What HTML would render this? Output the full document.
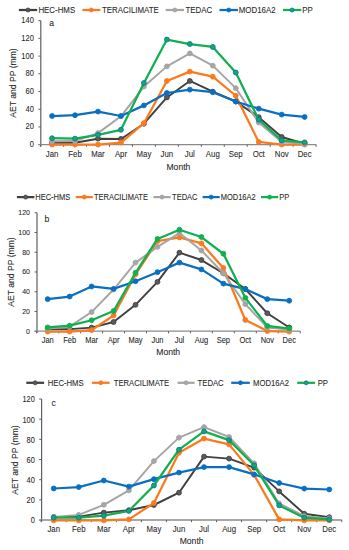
<!DOCTYPE html>
<html><head><meta charset="utf-8"><style>
html,body{margin:0;padding:0;background:#fff;width:349px;height:550px;overflow:hidden}
svg{display:block}
text{font-family:"Liberation Sans",sans-serif;fill:#2a2a2a;stroke:#2a2a2a;stroke-width:0.08px}
</style></head><body>
<svg width="349" height="550" viewBox="0 0 349 550">
<rect width="349" height="550" fill="#fff"/>
<line x1="40.80" y1="20.70" x2="40.80" y2="146.40" stroke="#606060" stroke-width="1.2"/>
<line x1="38.40" y1="144.60" x2="40.80" y2="144.60" stroke="#606060" stroke-width="1"/>
<text transform="translate(33.80 147.00) scale(1 1.11)" text-anchor="end" font-size="7.5">0</text>
<line x1="38.40" y1="126.90" x2="40.80" y2="126.90" stroke="#606060" stroke-width="1"/>
<text transform="translate(33.80 129.30) scale(1 1.11)" text-anchor="end" font-size="7.5">20</text>
<line x1="38.40" y1="109.20" x2="40.80" y2="109.20" stroke="#606060" stroke-width="1"/>
<text transform="translate(33.80 111.60) scale(1 1.11)" text-anchor="end" font-size="7.5">40</text>
<line x1="38.40" y1="91.50" x2="40.80" y2="91.50" stroke="#606060" stroke-width="1"/>
<text transform="translate(33.80 93.90) scale(1 1.11)" text-anchor="end" font-size="7.5">60</text>
<line x1="38.40" y1="73.80" x2="40.80" y2="73.80" stroke="#606060" stroke-width="1"/>
<text transform="translate(33.80 76.20) scale(1 1.11)" text-anchor="end" font-size="7.5">80</text>
<line x1="38.40" y1="56.10" x2="40.80" y2="56.10" stroke="#606060" stroke-width="1"/>
<text transform="translate(33.80 58.50) scale(1 1.11)" text-anchor="end" font-size="7.5">100</text>
<line x1="38.40" y1="38.40" x2="40.80" y2="38.40" stroke="#606060" stroke-width="1"/>
<text transform="translate(33.80 40.80) scale(1 1.11)" text-anchor="end" font-size="7.5">120</text>
<line x1="38.40" y1="20.70" x2="40.80" y2="20.70" stroke="#606060" stroke-width="1"/>
<text transform="translate(33.80 23.10) scale(1 1.11)" text-anchor="end" font-size="7.5">140</text>
<line x1="38.40" y1="144.6" x2="316.12" y2="144.6" stroke="#8a8a8a" stroke-width="1.3"/>
<line x1="40.60" y1="144.6" x2="40.60" y2="146.79999999999998" stroke="#606060" stroke-width="1"/>
<line x1="63.56" y1="144.6" x2="63.56" y2="146.79999999999998" stroke="#606060" stroke-width="1"/>
<line x1="86.52" y1="144.6" x2="86.52" y2="146.79999999999998" stroke="#606060" stroke-width="1"/>
<line x1="109.48" y1="144.6" x2="109.48" y2="146.79999999999998" stroke="#606060" stroke-width="1"/>
<line x1="132.44" y1="144.6" x2="132.44" y2="146.79999999999998" stroke="#606060" stroke-width="1"/>
<line x1="155.40" y1="144.6" x2="155.40" y2="146.79999999999998" stroke="#606060" stroke-width="1"/>
<line x1="178.36" y1="144.6" x2="178.36" y2="146.79999999999998" stroke="#606060" stroke-width="1"/>
<line x1="201.32" y1="144.6" x2="201.32" y2="146.79999999999998" stroke="#606060" stroke-width="1"/>
<line x1="224.28" y1="144.6" x2="224.28" y2="146.79999999999998" stroke="#606060" stroke-width="1"/>
<line x1="247.24" y1="144.6" x2="247.24" y2="146.79999999999998" stroke="#606060" stroke-width="1"/>
<line x1="270.20" y1="144.6" x2="270.20" y2="146.79999999999998" stroke="#606060" stroke-width="1"/>
<line x1="293.16" y1="144.6" x2="293.16" y2="146.79999999999998" stroke="#606060" stroke-width="1"/>
<line x1="316.12" y1="144.6" x2="316.12" y2="146.79999999999998" stroke="#606060" stroke-width="1"/>
<text transform="translate(52.08 157.20) scale(1 1.16)" text-anchor="middle" font-size="7.8">Jan</text>
<text transform="translate(75.04 157.20) scale(1 1.16)" text-anchor="middle" font-size="7.8">Feb</text>
<text transform="translate(98.00 157.20) scale(1 1.16)" text-anchor="middle" font-size="7.8">Mar</text>
<text transform="translate(120.96 157.20) scale(1 1.16)" text-anchor="middle" font-size="7.8">Apr</text>
<text transform="translate(143.92 157.20) scale(1 1.16)" text-anchor="middle" font-size="7.8">May</text>
<text transform="translate(166.88 157.20) scale(1 1.16)" text-anchor="middle" font-size="7.8">Jun</text>
<text transform="translate(189.84 157.20) scale(1 1.16)" text-anchor="middle" font-size="7.8">Jul</text>
<text transform="translate(212.80 157.20) scale(1 1.16)" text-anchor="middle" font-size="7.8">Aug</text>
<text transform="translate(235.76 157.20) scale(1 1.16)" text-anchor="middle" font-size="7.8">Sep</text>
<text transform="translate(258.72 157.20) scale(1 1.16)" text-anchor="middle" font-size="7.8">Oct</text>
<text transform="translate(281.68 157.20) scale(1 1.16)" text-anchor="middle" font-size="7.8">Nov</text>
<text transform="translate(304.64 157.20) scale(1 1.16)" text-anchor="middle" font-size="7.8">Dec</text>
<text transform="translate(178.40 169.60) scale(1 1.14)" text-anchor="middle" font-size="8.6">Month</text>
<text transform="translate(16.30 83.00) rotate(-90) scale(1 1.11)" text-anchor="middle" font-size="8.6">AET and PP (mm)</text>
<text transform="translate(49.20 26.10) scale(1 1.11)" font-size="8.6">a</text>
<polyline points="52.08,142.83 75.04,142.83 98.00,138.67 120.96,138.94 143.92,123.71 166.88,97.43 189.84,80.97 212.80,91.68 235.76,101.50 258.72,117.16 281.68,136.99 304.64,143.72" fill="none" stroke="#404040" stroke-width="1.95" stroke-linejoin="round"/>
<circle cx="52.08" cy="142.83" r="2.45" fill="#5A5A5A" stroke="#404040" stroke-width="0.9"/>
<circle cx="75.04" cy="142.83" r="2.45" fill="#5A5A5A" stroke="#404040" stroke-width="0.9"/>
<circle cx="98.00" cy="138.67" r="2.45" fill="#5A5A5A" stroke="#404040" stroke-width="0.9"/>
<circle cx="120.96" cy="138.94" r="2.45" fill="#5A5A5A" stroke="#404040" stroke-width="0.9"/>
<circle cx="143.92" cy="123.71" r="2.45" fill="#5A5A5A" stroke="#404040" stroke-width="0.9"/>
<circle cx="166.88" cy="97.43" r="2.45" fill="#5A5A5A" stroke="#404040" stroke-width="0.9"/>
<circle cx="189.84" cy="80.97" r="2.45" fill="#5A5A5A" stroke="#404040" stroke-width="0.9"/>
<circle cx="212.80" cy="91.68" r="2.45" fill="#5A5A5A" stroke="#404040" stroke-width="0.9"/>
<circle cx="235.76" cy="101.50" r="2.45" fill="#5A5A5A" stroke="#404040" stroke-width="0.9"/>
<circle cx="258.72" cy="117.16" r="2.45" fill="#5A5A5A" stroke="#404040" stroke-width="0.9"/>
<circle cx="281.68" cy="136.99" r="2.45" fill="#5A5A5A" stroke="#404040" stroke-width="0.9"/>
<circle cx="304.64" cy="143.72" r="2.45" fill="#5A5A5A" stroke="#404040" stroke-width="0.9"/>
<polyline points="52.08,144.60 75.04,144.60 98.00,144.60 120.96,142.56 143.92,123.18 166.88,80.97 189.84,71.59 212.80,76.72 235.76,95.75 258.72,141.94 281.68,144.60 304.64,144.60" fill="none" stroke="#FA7A1E" stroke-width="2.25" stroke-linejoin="round"/>
<circle cx="52.08" cy="144.60" r="2.45" fill="#FA7A1E" stroke="#FA7A1E" stroke-width="0.9"/>
<circle cx="75.04" cy="144.60" r="2.45" fill="#FA7A1E" stroke="#FA7A1E" stroke-width="0.9"/>
<circle cx="98.00" cy="144.60" r="2.45" fill="#FA7A1E" stroke="#FA7A1E" stroke-width="0.9"/>
<circle cx="120.96" cy="142.56" r="2.45" fill="#FA7A1E" stroke="#FA7A1E" stroke-width="0.9"/>
<circle cx="143.92" cy="123.18" r="2.45" fill="#FA7A1E" stroke="#FA7A1E" stroke-width="0.9"/>
<circle cx="166.88" cy="80.97" r="2.45" fill="#FA7A1E" stroke="#FA7A1E" stroke-width="0.9"/>
<circle cx="189.84" cy="71.59" r="2.45" fill="#FA7A1E" stroke="#FA7A1E" stroke-width="0.9"/>
<circle cx="212.80" cy="76.72" r="2.45" fill="#FA7A1E" stroke="#FA7A1E" stroke-width="0.9"/>
<circle cx="235.76" cy="95.75" r="2.45" fill="#FA7A1E" stroke="#FA7A1E" stroke-width="0.9"/>
<circle cx="258.72" cy="141.94" r="2.45" fill="#FA7A1E" stroke="#FA7A1E" stroke-width="0.9"/>
<circle cx="281.68" cy="144.60" r="2.45" fill="#FA7A1E" stroke="#FA7A1E" stroke-width="0.9"/>
<circle cx="304.64" cy="144.60" r="2.45" fill="#FA7A1E" stroke="#FA7A1E" stroke-width="0.9"/>
<polyline points="52.08,141.33 75.04,141.06 98.00,133.09 120.96,116.28 143.92,86.54 166.88,66.37 189.84,53.44 212.80,65.66 235.76,88.14 258.72,122.47 281.68,141.94 304.64,143.72" fill="none" stroke="#A5A5A5" stroke-width="1.95" stroke-linejoin="round"/>
<circle cx="52.08" cy="141.33" r="2.45" fill="#A5A5A5" stroke="#A5A5A5" stroke-width="0.9"/>
<circle cx="75.04" cy="141.06" r="2.45" fill="#A5A5A5" stroke="#A5A5A5" stroke-width="0.9"/>
<circle cx="98.00" cy="133.09" r="2.45" fill="#A5A5A5" stroke="#A5A5A5" stroke-width="0.9"/>
<circle cx="120.96" cy="116.28" r="2.45" fill="#A5A5A5" stroke="#A5A5A5" stroke-width="0.9"/>
<circle cx="143.92" cy="86.54" r="2.45" fill="#A5A5A5" stroke="#A5A5A5" stroke-width="0.9"/>
<circle cx="166.88" cy="66.37" r="2.45" fill="#A5A5A5" stroke="#A5A5A5" stroke-width="0.9"/>
<circle cx="189.84" cy="53.44" r="2.45" fill="#A5A5A5" stroke="#A5A5A5" stroke-width="0.9"/>
<circle cx="212.80" cy="65.66" r="2.45" fill="#A5A5A5" stroke="#A5A5A5" stroke-width="0.9"/>
<circle cx="235.76" cy="88.14" r="2.45" fill="#A5A5A5" stroke="#A5A5A5" stroke-width="0.9"/>
<circle cx="258.72" cy="122.47" r="2.45" fill="#A5A5A5" stroke="#A5A5A5" stroke-width="0.9"/>
<circle cx="281.68" cy="141.94" r="2.45" fill="#A5A5A5" stroke="#A5A5A5" stroke-width="0.9"/>
<circle cx="304.64" cy="143.72" r="2.45" fill="#A5A5A5" stroke="#A5A5A5" stroke-width="0.9"/>
<polyline points="52.08,116.01 75.04,115.22 98.00,111.59 120.96,116.01 143.92,105.39 166.88,93.00 189.84,89.64 212.80,92.21 235.76,101.50 258.72,108.67 281.68,114.60 304.64,116.99" fill="none" stroke="#0A6FC2" stroke-width="2.25" stroke-linejoin="round"/>
<circle cx="52.08" cy="116.01" r="2.45" fill="#0A6FC2" stroke="#0A6FC2" stroke-width="0.9"/>
<circle cx="75.04" cy="115.22" r="2.45" fill="#0A6FC2" stroke="#0A6FC2" stroke-width="0.9"/>
<circle cx="98.00" cy="111.59" r="2.45" fill="#0A6FC2" stroke="#0A6FC2" stroke-width="0.9"/>
<circle cx="120.96" cy="116.01" r="2.45" fill="#0A6FC2" stroke="#0A6FC2" stroke-width="0.9"/>
<circle cx="143.92" cy="105.39" r="2.45" fill="#0A6FC2" stroke="#0A6FC2" stroke-width="0.9"/>
<circle cx="166.88" cy="93.00" r="2.45" fill="#0A6FC2" stroke="#0A6FC2" stroke-width="0.9"/>
<circle cx="189.84" cy="89.64" r="2.45" fill="#0A6FC2" stroke="#0A6FC2" stroke-width="0.9"/>
<circle cx="212.80" cy="92.21" r="2.45" fill="#0A6FC2" stroke="#0A6FC2" stroke-width="0.9"/>
<circle cx="235.76" cy="101.50" r="2.45" fill="#0A6FC2" stroke="#0A6FC2" stroke-width="0.9"/>
<circle cx="258.72" cy="108.67" r="2.45" fill="#0A6FC2" stroke="#0A6FC2" stroke-width="0.9"/>
<circle cx="281.68" cy="114.60" r="2.45" fill="#0A6FC2" stroke="#0A6FC2" stroke-width="0.9"/>
<circle cx="304.64" cy="116.99" r="2.45" fill="#0A6FC2" stroke="#0A6FC2" stroke-width="0.9"/>
<polyline points="52.08,138.23 75.04,138.67 98.00,134.87 120.96,129.82 143.92,83.00 166.88,39.55 189.84,44.06 212.80,46.98 235.76,72.56 258.72,119.73 281.68,140.44 304.64,142.39" fill="none" stroke="#10AF4F" stroke-width="2.25" stroke-linejoin="round"/>
<circle cx="52.08" cy="138.23" r="2.45" fill="#10AF4F" stroke="#0A6FC2" stroke-width="0.9"/>
<circle cx="75.04" cy="138.67" r="2.45" fill="#10AF4F" stroke="#0A6FC2" stroke-width="0.9"/>
<circle cx="98.00" cy="134.87" r="2.45" fill="#10AF4F" stroke="#0A6FC2" stroke-width="0.9"/>
<circle cx="120.96" cy="129.82" r="2.45" fill="#10AF4F" stroke="#0A6FC2" stroke-width="0.9"/>
<circle cx="143.92" cy="83.00" r="2.45" fill="#10AF4F" stroke="#0A6FC2" stroke-width="0.9"/>
<circle cx="166.88" cy="39.55" r="2.45" fill="#10AF4F" stroke="#0A6FC2" stroke-width="0.9"/>
<circle cx="189.84" cy="44.06" r="2.45" fill="#10AF4F" stroke="#0A6FC2" stroke-width="0.9"/>
<circle cx="212.80" cy="46.98" r="2.45" fill="#10AF4F" stroke="#0A6FC2" stroke-width="0.9"/>
<circle cx="235.76" cy="72.56" r="2.45" fill="#10AF4F" stroke="#0A6FC2" stroke-width="0.9"/>
<circle cx="258.72" cy="119.73" r="2.45" fill="#10AF4F" stroke="#0A6FC2" stroke-width="0.9"/>
<circle cx="281.68" cy="140.44" r="2.45" fill="#10AF4F" stroke="#0A6FC2" stroke-width="0.9"/>
<circle cx="304.64" cy="142.39" r="2.45" fill="#10AF4F" stroke="#0A6FC2" stroke-width="0.9"/>
<line x1="18.9" y1="10.0" x2="37.2" y2="10.0" stroke="#404040" stroke-width="2.25"/>
<circle cx="28.05" cy="10.0" r="2.0" fill="#5A5A5A" stroke="#404040" stroke-width="0.8"/>
<text transform="translate(38.40 13.05) scale(1 1.11)" font-size="7.9">HEC-HMS</text>
<line x1="82.4" y1="10.0" x2="100.3" y2="10.0" stroke="#FA7A1E" stroke-width="2.25"/>
<circle cx="91.35" cy="10.0" r="2.0" fill="#FA7A1E" stroke="#FA7A1E" stroke-width="0.8"/>
<text transform="translate(102.00 13.05) scale(1 1.11)" font-size="7.9">TERACILIMATE</text>
<line x1="165.7" y1="10.0" x2="184.0" y2="10.0" stroke="#A5A5A5" stroke-width="2.25"/>
<circle cx="174.85" cy="10.0" r="2.0" fill="#A5A5A5" stroke="#A5A5A5" stroke-width="0.8"/>
<text transform="translate(185.40 13.05) scale(1 1.11)" font-size="7.9">TEDAC</text>
<line x1="219.5" y1="10.0" x2="238.0" y2="10.0" stroke="#0A6FC2" stroke-width="2.25"/>
<circle cx="228.75" cy="10.0" r="2.0" fill="#0A6FC2" stroke="#0A6FC2" stroke-width="0.8"/>
<text transform="translate(238.80 13.05) scale(1 1.11)" font-size="7.9">MOD16A2</text>
<line x1="283" y1="10.0" x2="301.3" y2="10.0" stroke="#10AF4F" stroke-width="2.25"/>
<circle cx="292.15" cy="10.0" r="2.0" fill="#10AF4F" stroke="#0A6FC2" stroke-width="0.8"/>
<text transform="translate(302.20 13.05) scale(1 1.11)" font-size="7.9">PP</text>
<line x1="37.00" y1="212.76" x2="37.00" y2="333.00" stroke="#606060" stroke-width="1.2"/>
<line x1="34.60" y1="331.20" x2="37.00" y2="331.20" stroke="#606060" stroke-width="1"/>
<text transform="translate(30.00 333.60) scale(1 1.11)" text-anchor="end" font-size="7.0">0</text>
<line x1="34.60" y1="311.46" x2="37.00" y2="311.46" stroke="#606060" stroke-width="1"/>
<text transform="translate(30.00 313.86) scale(1 1.11)" text-anchor="end" font-size="7.0">20</text>
<line x1="34.60" y1="291.72" x2="37.00" y2="291.72" stroke="#606060" stroke-width="1"/>
<text transform="translate(30.00 294.12) scale(1 1.11)" text-anchor="end" font-size="7.0">40</text>
<line x1="34.60" y1="271.98" x2="37.00" y2="271.98" stroke="#606060" stroke-width="1"/>
<text transform="translate(30.00 274.38) scale(1 1.11)" text-anchor="end" font-size="7.0">60</text>
<line x1="34.60" y1="252.24" x2="37.00" y2="252.24" stroke="#606060" stroke-width="1"/>
<text transform="translate(30.00 254.64) scale(1 1.11)" text-anchor="end" font-size="7.0">80</text>
<line x1="34.60" y1="232.50" x2="37.00" y2="232.50" stroke="#606060" stroke-width="1"/>
<text transform="translate(30.00 234.90) scale(1 1.11)" text-anchor="end" font-size="7.0">100</text>
<line x1="34.60" y1="212.76" x2="37.00" y2="212.76" stroke="#606060" stroke-width="1"/>
<text transform="translate(30.00 215.16) scale(1 1.11)" text-anchor="end" font-size="7.0">120</text>
<line x1="34.60" y1="331.2" x2="300.22" y2="331.2" stroke="#8a8a8a" stroke-width="1.3"/>
<line x1="36.70" y1="331.2" x2="36.70" y2="333.4" stroke="#606060" stroke-width="1"/>
<line x1="58.66" y1="331.2" x2="58.66" y2="333.4" stroke="#606060" stroke-width="1"/>
<line x1="80.62" y1="331.2" x2="80.62" y2="333.4" stroke="#606060" stroke-width="1"/>
<line x1="102.58" y1="331.2" x2="102.58" y2="333.4" stroke="#606060" stroke-width="1"/>
<line x1="124.54" y1="331.2" x2="124.54" y2="333.4" stroke="#606060" stroke-width="1"/>
<line x1="146.50" y1="331.2" x2="146.50" y2="333.4" stroke="#606060" stroke-width="1"/>
<line x1="168.46" y1="331.2" x2="168.46" y2="333.4" stroke="#606060" stroke-width="1"/>
<line x1="190.42" y1="331.2" x2="190.42" y2="333.4" stroke="#606060" stroke-width="1"/>
<line x1="212.38" y1="331.2" x2="212.38" y2="333.4" stroke="#606060" stroke-width="1"/>
<line x1="234.34" y1="331.2" x2="234.34" y2="333.4" stroke="#606060" stroke-width="1"/>
<line x1="256.30" y1="331.2" x2="256.30" y2="333.4" stroke="#606060" stroke-width="1"/>
<line x1="278.26" y1="331.2" x2="278.26" y2="333.4" stroke="#606060" stroke-width="1"/>
<line x1="300.22" y1="331.2" x2="300.22" y2="333.4" stroke="#606060" stroke-width="1"/>
<text transform="translate(47.68 343.40) scale(1 1.16)" text-anchor="middle" font-size="7.5">Jan</text>
<text transform="translate(69.64 343.40) scale(1 1.16)" text-anchor="middle" font-size="7.5">Feb</text>
<text transform="translate(91.60 343.40) scale(1 1.16)" text-anchor="middle" font-size="7.5">Mar</text>
<text transform="translate(113.56 343.40) scale(1 1.16)" text-anchor="middle" font-size="7.5">Apr</text>
<text transform="translate(135.52 343.40) scale(1 1.16)" text-anchor="middle" font-size="7.5">May</text>
<text transform="translate(157.48 343.40) scale(1 1.16)" text-anchor="middle" font-size="7.5">Jun</text>
<text transform="translate(179.44 343.40) scale(1 1.16)" text-anchor="middle" font-size="7.5">Jul</text>
<text transform="translate(201.40 343.40) scale(1 1.16)" text-anchor="middle" font-size="7.5">Aug</text>
<text transform="translate(223.36 343.40) scale(1 1.16)" text-anchor="middle" font-size="7.5">Sep</text>
<text transform="translate(245.32 343.40) scale(1 1.16)" text-anchor="middle" font-size="7.5">Oct</text>
<text transform="translate(267.28 343.40) scale(1 1.16)" text-anchor="middle" font-size="7.5">Nov</text>
<text transform="translate(289.24 343.40) scale(1 1.16)" text-anchor="middle" font-size="7.5">Dec</text>
<text transform="translate(168.20 354.90) scale(1 1.14)" text-anchor="middle" font-size="8.6">Month</text>
<text transform="translate(14.10 272.00) rotate(-90) scale(1 1.11)" text-anchor="middle" font-size="8.6">AET and PP (mm)</text>
<text transform="translate(44.60 221.60) scale(1 1.11)" font-size="8.6">b</text>
<polyline points="47.68,329.13 69.64,329.13 91.60,327.65 113.56,322.03 135.52,304.85 157.48,281.86 179.44,252.64 201.40,260.04 223.36,273.27 245.32,289.06 267.28,313.24 289.24,327.45" fill="none" stroke="#404040" stroke-width="1.95" stroke-linejoin="round"/>
<circle cx="47.68" cy="329.13" r="2.45" fill="#5A5A5A" stroke="#404040" stroke-width="0.9"/>
<circle cx="69.64" cy="329.13" r="2.45" fill="#5A5A5A" stroke="#404040" stroke-width="0.9"/>
<circle cx="91.60" cy="327.65" r="2.45" fill="#5A5A5A" stroke="#404040" stroke-width="0.9"/>
<circle cx="113.56" cy="322.03" r="2.45" fill="#5A5A5A" stroke="#404040" stroke-width="0.9"/>
<circle cx="135.52" cy="304.85" r="2.45" fill="#5A5A5A" stroke="#404040" stroke-width="0.9"/>
<circle cx="157.48" cy="281.86" r="2.45" fill="#5A5A5A" stroke="#404040" stroke-width="0.9"/>
<circle cx="179.44" cy="252.64" r="2.45" fill="#5A5A5A" stroke="#404040" stroke-width="0.9"/>
<circle cx="201.40" cy="260.04" r="2.45" fill="#5A5A5A" stroke="#404040" stroke-width="0.9"/>
<circle cx="223.36" cy="273.27" r="2.45" fill="#5A5A5A" stroke="#404040" stroke-width="0.9"/>
<circle cx="245.32" cy="289.06" r="2.45" fill="#5A5A5A" stroke="#404040" stroke-width="0.9"/>
<circle cx="267.28" cy="313.24" r="2.45" fill="#5A5A5A" stroke="#404040" stroke-width="0.9"/>
<circle cx="289.24" cy="327.45" r="2.45" fill="#5A5A5A" stroke="#404040" stroke-width="0.9"/>
<polyline points="47.68,331.60 69.64,331.60 91.60,330.12 113.56,315.51 135.52,274.35 157.48,241.19 179.44,237.44 201.40,243.36 223.36,267.94 245.32,319.95 267.28,331.01 289.24,331.60" fill="none" stroke="#FA7A1E" stroke-width="2.25" stroke-linejoin="round"/>
<circle cx="47.68" cy="331.60" r="2.45" fill="#FA7A1E" stroke="#FA7A1E" stroke-width="0.9"/>
<circle cx="69.64" cy="331.60" r="2.45" fill="#FA7A1E" stroke="#FA7A1E" stroke-width="0.9"/>
<circle cx="91.60" cy="330.12" r="2.45" fill="#FA7A1E" stroke="#FA7A1E" stroke-width="0.9"/>
<circle cx="113.56" cy="315.51" r="2.45" fill="#FA7A1E" stroke="#FA7A1E" stroke-width="0.9"/>
<circle cx="135.52" cy="274.35" r="2.45" fill="#FA7A1E" stroke="#FA7A1E" stroke-width="0.9"/>
<circle cx="157.48" cy="241.19" r="2.45" fill="#FA7A1E" stroke="#FA7A1E" stroke-width="0.9"/>
<circle cx="179.44" cy="237.44" r="2.45" fill="#FA7A1E" stroke="#FA7A1E" stroke-width="0.9"/>
<circle cx="201.40" cy="243.36" r="2.45" fill="#FA7A1E" stroke="#FA7A1E" stroke-width="0.9"/>
<circle cx="223.36" cy="267.94" r="2.45" fill="#FA7A1E" stroke="#FA7A1E" stroke-width="0.9"/>
<circle cx="245.32" cy="319.95" r="2.45" fill="#FA7A1E" stroke="#FA7A1E" stroke-width="0.9"/>
<circle cx="267.28" cy="331.01" r="2.45" fill="#FA7A1E" stroke="#FA7A1E" stroke-width="0.9"/>
<circle cx="289.24" cy="331.60" r="2.45" fill="#FA7A1E" stroke="#FA7A1E" stroke-width="0.9"/>
<polyline points="47.68,328.64 69.64,326.67 91.60,312.06 113.56,289.55 135.52,262.61 157.48,246.92 179.44,233.10 201.40,250.47 223.36,273.27 245.32,304.16 267.28,327.45 289.24,329.63" fill="none" stroke="#A5A5A5" stroke-width="1.95" stroke-linejoin="round"/>
<circle cx="47.68" cy="328.64" r="2.45" fill="#A5A5A5" stroke="#A5A5A5" stroke-width="0.9"/>
<circle cx="69.64" cy="326.67" r="2.45" fill="#A5A5A5" stroke="#A5A5A5" stroke-width="0.9"/>
<circle cx="91.60" cy="312.06" r="2.45" fill="#A5A5A5" stroke="#A5A5A5" stroke-width="0.9"/>
<circle cx="113.56" cy="289.55" r="2.45" fill="#A5A5A5" stroke="#A5A5A5" stroke-width="0.9"/>
<circle cx="135.52" cy="262.61" r="2.45" fill="#A5A5A5" stroke="#A5A5A5" stroke-width="0.9"/>
<circle cx="157.48" cy="246.92" r="2.45" fill="#A5A5A5" stroke="#A5A5A5" stroke-width="0.9"/>
<circle cx="179.44" cy="233.10" r="2.45" fill="#A5A5A5" stroke="#A5A5A5" stroke-width="0.9"/>
<circle cx="201.40" cy="250.47" r="2.45" fill="#A5A5A5" stroke="#A5A5A5" stroke-width="0.9"/>
<circle cx="223.36" cy="273.27" r="2.45" fill="#A5A5A5" stroke="#A5A5A5" stroke-width="0.9"/>
<circle cx="245.32" cy="304.16" r="2.45" fill="#A5A5A5" stroke="#A5A5A5" stroke-width="0.9"/>
<circle cx="267.28" cy="327.45" r="2.45" fill="#A5A5A5" stroke="#A5A5A5" stroke-width="0.9"/>
<circle cx="289.24" cy="329.63" r="2.45" fill="#A5A5A5" stroke="#A5A5A5" stroke-width="0.9"/>
<polyline points="47.68,299.13 69.64,296.56 91.60,286.49 113.56,288.86 135.52,281.26 157.48,272.18 179.44,262.61 201.40,269.42 223.36,283.63 245.32,289.06 267.28,299.13 289.24,300.71" fill="none" stroke="#0A6FC2" stroke-width="2.25" stroke-linejoin="round"/>
<circle cx="47.68" cy="299.13" r="2.45" fill="#0A6FC2" stroke="#0A6FC2" stroke-width="0.9"/>
<circle cx="69.64" cy="296.56" r="2.45" fill="#0A6FC2" stroke="#0A6FC2" stroke-width="0.9"/>
<circle cx="91.60" cy="286.49" r="2.45" fill="#0A6FC2" stroke="#0A6FC2" stroke-width="0.9"/>
<circle cx="113.56" cy="288.86" r="2.45" fill="#0A6FC2" stroke="#0A6FC2" stroke-width="0.9"/>
<circle cx="135.52" cy="281.26" r="2.45" fill="#0A6FC2" stroke="#0A6FC2" stroke-width="0.9"/>
<circle cx="157.48" cy="272.18" r="2.45" fill="#0A6FC2" stroke="#0A6FC2" stroke-width="0.9"/>
<circle cx="179.44" cy="262.61" r="2.45" fill="#0A6FC2" stroke="#0A6FC2" stroke-width="0.9"/>
<circle cx="201.40" cy="269.42" r="2.45" fill="#0A6FC2" stroke="#0A6FC2" stroke-width="0.9"/>
<circle cx="223.36" cy="283.63" r="2.45" fill="#0A6FC2" stroke="#0A6FC2" stroke-width="0.9"/>
<circle cx="245.32" cy="289.06" r="2.45" fill="#0A6FC2" stroke="#0A6FC2" stroke-width="0.9"/>
<circle cx="267.28" cy="299.13" r="2.45" fill="#0A6FC2" stroke="#0A6FC2" stroke-width="0.9"/>
<circle cx="289.24" cy="300.71" r="2.45" fill="#0A6FC2" stroke="#0A6FC2" stroke-width="0.9"/>
<polyline points="47.68,327.45 69.64,325.68 91.60,320.25 113.56,311.07 135.52,272.77 157.48,238.92 179.44,229.74 201.40,237.05 223.36,253.73 245.32,297.84 267.28,325.97 289.24,328.54" fill="none" stroke="#10AF4F" stroke-width="2.25" stroke-linejoin="round"/>
<circle cx="47.68" cy="327.45" r="2.45" fill="#10AF4F" stroke="#10AF4F" stroke-width="0.9"/>
<circle cx="69.64" cy="325.68" r="2.45" fill="#10AF4F" stroke="#10AF4F" stroke-width="0.9"/>
<circle cx="91.60" cy="320.25" r="2.45" fill="#10AF4F" stroke="#10AF4F" stroke-width="0.9"/>
<circle cx="113.56" cy="311.07" r="2.45" fill="#10AF4F" stroke="#10AF4F" stroke-width="0.9"/>
<circle cx="135.52" cy="272.77" r="2.45" fill="#10AF4F" stroke="#10AF4F" stroke-width="0.9"/>
<circle cx="157.48" cy="238.92" r="2.45" fill="#10AF4F" stroke="#10AF4F" stroke-width="0.9"/>
<circle cx="179.44" cy="229.74" r="2.45" fill="#10AF4F" stroke="#10AF4F" stroke-width="0.9"/>
<circle cx="201.40" cy="237.05" r="2.45" fill="#10AF4F" stroke="#10AF4F" stroke-width="0.9"/>
<circle cx="223.36" cy="253.73" r="2.45" fill="#10AF4F" stroke="#10AF4F" stroke-width="0.9"/>
<circle cx="245.32" cy="297.84" r="2.45" fill="#10AF4F" stroke="#10AF4F" stroke-width="0.9"/>
<circle cx="267.28" cy="325.97" r="2.45" fill="#10AF4F" stroke="#10AF4F" stroke-width="0.9"/>
<circle cx="289.24" cy="328.54" r="2.45" fill="#10AF4F" stroke="#10AF4F" stroke-width="0.9"/>
<line x1="16.9" y1="197.1" x2="34.4" y2="197.1" stroke="#404040" stroke-width="2.25"/>
<circle cx="25.65" cy="197.1" r="2.0" fill="#5A5A5A" stroke="#404040" stroke-width="0.8"/>
<text transform="translate(35.30 200.05) scale(1 1.11)" font-size="7.5">HEC-HMS</text>
<line x1="75.7" y1="197.1" x2="92.8" y2="197.1" stroke="#FA7A1E" stroke-width="2.25"/>
<circle cx="84.25" cy="197.1" r="2.0" fill="#FA7A1E" stroke="#FA7A1E" stroke-width="0.8"/>
<text transform="translate(94.00 200.05) scale(1 1.11)" font-size="7.5">TERACILIMATE</text>
<line x1="153.4" y1="197.1" x2="170.6" y2="197.1" stroke="#A5A5A5" stroke-width="2.25"/>
<circle cx="162.00" cy="197.1" r="2.0" fill="#A5A5A5" stroke="#A5A5A5" stroke-width="0.8"/>
<text transform="translate(172.10 200.05) scale(1 1.11)" font-size="7.5">TEDAC</text>
<line x1="202.6" y1="197.1" x2="219.7" y2="197.1" stroke="#0A6FC2" stroke-width="2.25"/>
<circle cx="211.15" cy="197.1" r="2.0" fill="#0A6FC2" stroke="#0A6FC2" stroke-width="0.8"/>
<text transform="translate(220.70 200.05) scale(1 1.11)" font-size="7.5">MOD16A2</text>
<line x1="261.0" y1="197.1" x2="278.2" y2="197.1" stroke="#10AF4F" stroke-width="2.25"/>
<circle cx="269.60" cy="197.1" r="2.0" fill="#10AF4F" stroke="#10AF4F" stroke-width="0.8"/>
<text transform="translate(279.20 200.05) scale(1 1.11)" font-size="7.5">PP</text>
<line x1="41.60" y1="399.04" x2="41.60" y2="521.80" stroke="#606060" stroke-width="1.2"/>
<line x1="39.20" y1="520.00" x2="41.60" y2="520.00" stroke="#606060" stroke-width="1"/>
<text transform="translate(34.80 523.40) scale(1 1.11)" text-anchor="end" font-size="7.4">0</text>
<line x1="39.20" y1="499.84" x2="41.60" y2="499.84" stroke="#606060" stroke-width="1"/>
<text transform="translate(34.80 503.24) scale(1 1.11)" text-anchor="end" font-size="7.4">20</text>
<line x1="39.20" y1="479.68" x2="41.60" y2="479.68" stroke="#606060" stroke-width="1"/>
<text transform="translate(34.80 483.08) scale(1 1.11)" text-anchor="end" font-size="7.4">40</text>
<line x1="39.20" y1="459.52" x2="41.60" y2="459.52" stroke="#606060" stroke-width="1"/>
<text transform="translate(34.80 462.92) scale(1 1.11)" text-anchor="end" font-size="7.4">60</text>
<line x1="39.20" y1="439.36" x2="41.60" y2="439.36" stroke="#606060" stroke-width="1"/>
<text transform="translate(34.80 442.76) scale(1 1.11)" text-anchor="end" font-size="7.4">80</text>
<line x1="39.20" y1="419.20" x2="41.60" y2="419.20" stroke="#606060" stroke-width="1"/>
<text transform="translate(34.80 422.60) scale(1 1.11)" text-anchor="end" font-size="7.4">100</text>
<line x1="39.20" y1="399.04" x2="41.60" y2="399.04" stroke="#606060" stroke-width="1"/>
<text transform="translate(34.80 402.44) scale(1 1.11)" text-anchor="end" font-size="7.4">120</text>
<line x1="39.20" y1="520.0" x2="341.80" y2="520.0" stroke="#8a8a8a" stroke-width="1.3"/>
<line x1="41.20" y1="520.0" x2="41.20" y2="522.2" stroke="#606060" stroke-width="1"/>
<line x1="66.25" y1="520.0" x2="66.25" y2="522.2" stroke="#606060" stroke-width="1"/>
<line x1="91.30" y1="520.0" x2="91.30" y2="522.2" stroke="#606060" stroke-width="1"/>
<line x1="116.35" y1="520.0" x2="116.35" y2="522.2" stroke="#606060" stroke-width="1"/>
<line x1="141.40" y1="520.0" x2="141.40" y2="522.2" stroke="#606060" stroke-width="1"/>
<line x1="166.45" y1="520.0" x2="166.45" y2="522.2" stroke="#606060" stroke-width="1"/>
<line x1="191.50" y1="520.0" x2="191.50" y2="522.2" stroke="#606060" stroke-width="1"/>
<line x1="216.55" y1="520.0" x2="216.55" y2="522.2" stroke="#606060" stroke-width="1"/>
<line x1="241.60" y1="520.0" x2="241.60" y2="522.2" stroke="#606060" stroke-width="1"/>
<line x1="266.65" y1="520.0" x2="266.65" y2="522.2" stroke="#606060" stroke-width="1"/>
<line x1="291.70" y1="520.0" x2="291.70" y2="522.2" stroke="#606060" stroke-width="1"/>
<line x1="316.75" y1="520.0" x2="316.75" y2="522.2" stroke="#606060" stroke-width="1"/>
<line x1="341.80" y1="520.0" x2="341.80" y2="522.2" stroke="#606060" stroke-width="1"/>
<text transform="translate(53.73 532.00) scale(1 1.16)" text-anchor="middle" font-size="7.8">Jan</text>
<text transform="translate(78.78 532.00) scale(1 1.16)" text-anchor="middle" font-size="7.8">Feb</text>
<text transform="translate(103.83 532.00) scale(1 1.16)" text-anchor="middle" font-size="7.8">Mar</text>
<text transform="translate(128.88 532.00) scale(1 1.16)" text-anchor="middle" font-size="7.8">Apr</text>
<text transform="translate(153.93 532.00) scale(1 1.16)" text-anchor="middle" font-size="7.8">May</text>
<text transform="translate(178.98 532.00) scale(1 1.16)" text-anchor="middle" font-size="7.8">Jun</text>
<text transform="translate(204.03 532.00) scale(1 1.16)" text-anchor="middle" font-size="7.8">Jul</text>
<text transform="translate(229.07 532.00) scale(1 1.16)" text-anchor="middle" font-size="7.8">Aug</text>
<text transform="translate(254.12 532.00) scale(1 1.16)" text-anchor="middle" font-size="7.8">Sep</text>
<text transform="translate(279.18 532.00) scale(1 1.16)" text-anchor="middle" font-size="7.8">Oct</text>
<text transform="translate(304.23 532.00) scale(1 1.16)" text-anchor="middle" font-size="7.8">Nov</text>
<text transform="translate(329.27 532.00) scale(1 1.16)" text-anchor="middle" font-size="7.8">Dec</text>
<text transform="translate(191.60 544.00) scale(1 1.14)" text-anchor="middle" font-size="8.6">Month</text>
<text transform="translate(18.10 460.00) rotate(-90) scale(1 1.11)" text-anchor="middle" font-size="8.6">AET and PP (mm)</text>
<text transform="translate(51.40 406.40) scale(1 1.11)" font-size="8.6">c</text>
<polyline points="53.73,516.90 78.78,516.60 103.83,512.60 128.88,510.20 153.93,505.00 178.98,492.70 204.03,456.60 229.07,458.60 254.12,467.60 279.18,491.40 304.23,513.80 329.27,517.20" fill="none" stroke="#404040" stroke-width="1.95" stroke-linejoin="round"/>
<circle cx="53.73" cy="516.90" r="2.45" fill="#5A5A5A" stroke="#404040" stroke-width="0.9"/>
<circle cx="78.78" cy="516.60" r="2.45" fill="#5A5A5A" stroke="#404040" stroke-width="0.9"/>
<circle cx="103.83" cy="512.60" r="2.45" fill="#5A5A5A" stroke="#404040" stroke-width="0.9"/>
<circle cx="128.88" cy="510.20" r="2.45" fill="#5A5A5A" stroke="#404040" stroke-width="0.9"/>
<circle cx="153.93" cy="505.00" r="2.45" fill="#5A5A5A" stroke="#404040" stroke-width="0.9"/>
<circle cx="178.98" cy="492.70" r="2.45" fill="#5A5A5A" stroke="#404040" stroke-width="0.9"/>
<circle cx="204.03" cy="456.60" r="2.45" fill="#5A5A5A" stroke="#404040" stroke-width="0.9"/>
<circle cx="229.07" cy="458.60" r="2.45" fill="#5A5A5A" stroke="#404040" stroke-width="0.9"/>
<circle cx="254.12" cy="467.60" r="2.45" fill="#5A5A5A" stroke="#404040" stroke-width="0.9"/>
<circle cx="279.18" cy="491.40" r="2.45" fill="#5A5A5A" stroke="#404040" stroke-width="0.9"/>
<circle cx="304.23" cy="513.80" r="2.45" fill="#5A5A5A" stroke="#404040" stroke-width="0.9"/>
<circle cx="329.27" cy="517.20" r="2.45" fill="#5A5A5A" stroke="#404040" stroke-width="0.9"/>
<polyline points="53.73,520.40 78.78,520.40 103.83,520.40 128.88,519.40 153.93,503.00 178.98,452.80 204.03,438.60 229.07,444.40 254.12,474.90 279.18,519.40 304.23,520.40 329.27,520.40" fill="none" stroke="#FA7A1E" stroke-width="2.25" stroke-linejoin="round"/>
<circle cx="53.73" cy="520.40" r="2.45" fill="#FA7A1E" stroke="#FA7A1E" stroke-width="0.9"/>
<circle cx="78.78" cy="520.40" r="2.45" fill="#FA7A1E" stroke="#FA7A1E" stroke-width="0.9"/>
<circle cx="103.83" cy="520.40" r="2.45" fill="#FA7A1E" stroke="#FA7A1E" stroke-width="0.9"/>
<circle cx="128.88" cy="519.40" r="2.45" fill="#FA7A1E" stroke="#FA7A1E" stroke-width="0.9"/>
<circle cx="153.93" cy="503.00" r="2.45" fill="#FA7A1E" stroke="#FA7A1E" stroke-width="0.9"/>
<circle cx="178.98" cy="452.80" r="2.45" fill="#FA7A1E" stroke="#FA7A1E" stroke-width="0.9"/>
<circle cx="204.03" cy="438.60" r="2.45" fill="#FA7A1E" stroke="#FA7A1E" stroke-width="0.9"/>
<circle cx="229.07" cy="444.40" r="2.45" fill="#FA7A1E" stroke="#FA7A1E" stroke-width="0.9"/>
<circle cx="254.12" cy="474.90" r="2.45" fill="#FA7A1E" stroke="#FA7A1E" stroke-width="0.9"/>
<circle cx="279.18" cy="519.40" r="2.45" fill="#FA7A1E" stroke="#FA7A1E" stroke-width="0.9"/>
<circle cx="304.23" cy="520.40" r="2.45" fill="#FA7A1E" stroke="#FA7A1E" stroke-width="0.9"/>
<circle cx="329.27" cy="520.40" r="2.45" fill="#FA7A1E" stroke="#FA7A1E" stroke-width="0.9"/>
<polyline points="53.73,516.90 78.78,514.90 103.83,504.80 128.88,490.40 153.93,461.10 178.98,437.60 204.03,427.10 229.07,437.00 254.12,463.30 279.18,503.40 304.23,516.10 329.27,518.40" fill="none" stroke="#A5A5A5" stroke-width="1.95" stroke-linejoin="round"/>
<circle cx="53.73" cy="516.90" r="2.45" fill="#A5A5A5" stroke="#A5A5A5" stroke-width="0.9"/>
<circle cx="78.78" cy="514.90" r="2.45" fill="#A5A5A5" stroke="#A5A5A5" stroke-width="0.9"/>
<circle cx="103.83" cy="504.80" r="2.45" fill="#A5A5A5" stroke="#A5A5A5" stroke-width="0.9"/>
<circle cx="128.88" cy="490.40" r="2.45" fill="#A5A5A5" stroke="#A5A5A5" stroke-width="0.9"/>
<circle cx="153.93" cy="461.10" r="2.45" fill="#A5A5A5" stroke="#A5A5A5" stroke-width="0.9"/>
<circle cx="178.98" cy="437.60" r="2.45" fill="#A5A5A5" stroke="#A5A5A5" stroke-width="0.9"/>
<circle cx="204.03" cy="427.10" r="2.45" fill="#A5A5A5" stroke="#A5A5A5" stroke-width="0.9"/>
<circle cx="229.07" cy="437.00" r="2.45" fill="#A5A5A5" stroke="#A5A5A5" stroke-width="0.9"/>
<circle cx="254.12" cy="463.30" r="2.45" fill="#A5A5A5" stroke="#A5A5A5" stroke-width="0.9"/>
<circle cx="279.18" cy="503.40" r="2.45" fill="#A5A5A5" stroke="#A5A5A5" stroke-width="0.9"/>
<circle cx="304.23" cy="516.10" r="2.45" fill="#A5A5A5" stroke="#A5A5A5" stroke-width="0.9"/>
<circle cx="329.27" cy="518.40" r="2.45" fill="#A5A5A5" stroke="#A5A5A5" stroke-width="0.9"/>
<polyline points="53.73,488.50 78.78,487.10 103.83,480.50 128.88,486.60 153.93,479.20 178.98,472.60 204.03,467.10 229.07,467.10 254.12,474.40 279.18,483.00 304.23,488.60 329.27,489.50" fill="none" stroke="#0A6FC2" stroke-width="2.25" stroke-linejoin="round"/>
<circle cx="53.73" cy="488.50" r="2.45" fill="#0A6FC2" stroke="#0A6FC2" stroke-width="0.9"/>
<circle cx="78.78" cy="487.10" r="2.45" fill="#0A6FC2" stroke="#0A6FC2" stroke-width="0.9"/>
<circle cx="103.83" cy="480.50" r="2.45" fill="#0A6FC2" stroke="#0A6FC2" stroke-width="0.9"/>
<circle cx="128.88" cy="486.60" r="2.45" fill="#0A6FC2" stroke="#0A6FC2" stroke-width="0.9"/>
<circle cx="153.93" cy="479.20" r="2.45" fill="#0A6FC2" stroke="#0A6FC2" stroke-width="0.9"/>
<circle cx="178.98" cy="472.60" r="2.45" fill="#0A6FC2" stroke="#0A6FC2" stroke-width="0.9"/>
<circle cx="204.03" cy="467.10" r="2.45" fill="#0A6FC2" stroke="#0A6FC2" stroke-width="0.9"/>
<circle cx="229.07" cy="467.10" r="2.45" fill="#0A6FC2" stroke="#0A6FC2" stroke-width="0.9"/>
<circle cx="254.12" cy="474.40" r="2.45" fill="#0A6FC2" stroke="#0A6FC2" stroke-width="0.9"/>
<circle cx="279.18" cy="483.00" r="2.45" fill="#0A6FC2" stroke="#0A6FC2" stroke-width="0.9"/>
<circle cx="304.23" cy="488.60" r="2.45" fill="#0A6FC2" stroke="#0A6FC2" stroke-width="0.9"/>
<circle cx="329.27" cy="489.50" r="2.45" fill="#0A6FC2" stroke="#0A6FC2" stroke-width="0.9"/>
<polyline points="53.73,517.70 78.78,517.70 103.83,515.70 128.88,510.90 153.93,485.50 178.98,449.70 204.03,431.40 229.07,440.10 254.12,465.30 279.18,505.40 304.23,517.70 329.27,519.40" fill="none" stroke="#10AF4F" stroke-width="2.25" stroke-linejoin="round"/>
<circle cx="53.73" cy="517.70" r="2.45" fill="#10AF4F" stroke="#0A6FC2" stroke-width="0.9"/>
<circle cx="78.78" cy="517.70" r="2.45" fill="#10AF4F" stroke="#0A6FC2" stroke-width="0.9"/>
<circle cx="103.83" cy="515.70" r="2.45" fill="#10AF4F" stroke="#0A6FC2" stroke-width="0.9"/>
<circle cx="128.88" cy="510.90" r="2.45" fill="#10AF4F" stroke="#0A6FC2" stroke-width="0.9"/>
<circle cx="153.93" cy="485.50" r="2.45" fill="#10AF4F" stroke="#0A6FC2" stroke-width="0.9"/>
<circle cx="178.98" cy="449.70" r="2.45" fill="#10AF4F" stroke="#0A6FC2" stroke-width="0.9"/>
<circle cx="204.03" cy="431.40" r="2.45" fill="#10AF4F" stroke="#0A6FC2" stroke-width="0.9"/>
<circle cx="229.07" cy="440.10" r="2.45" fill="#10AF4F" stroke="#0A6FC2" stroke-width="0.9"/>
<circle cx="254.12" cy="465.30" r="2.45" fill="#10AF4F" stroke="#0A6FC2" stroke-width="0.9"/>
<circle cx="279.18" cy="505.40" r="2.45" fill="#10AF4F" stroke="#0A6FC2" stroke-width="0.9"/>
<circle cx="304.23" cy="517.70" r="2.45" fill="#10AF4F" stroke="#0A6FC2" stroke-width="0.9"/>
<circle cx="329.27" cy="519.40" r="2.45" fill="#10AF4F" stroke="#0A6FC2" stroke-width="0.9"/>
<line x1="26.3" y1="382.8" x2="44.1" y2="382.8" stroke="#404040" stroke-width="2.25"/>
<circle cx="35.20" cy="382.8" r="2.0" fill="#5A5A5A" stroke="#404040" stroke-width="0.8"/>
<text transform="translate(47.70 385.55) scale(1 1.11)" font-size="7.7">HEC-HMS</text>
<line x1="91.9" y1="382.8" x2="109.6" y2="382.8" stroke="#FA7A1E" stroke-width="2.25"/>
<circle cx="100.75" cy="382.8" r="2.0" fill="#FA7A1E" stroke="#FA7A1E" stroke-width="0.8"/>
<text transform="translate(113.70 385.55) scale(1 1.11)" font-size="7.7">TERACILIMATE</text>
<line x1="177.7" y1="382.8" x2="194.5" y2="382.8" stroke="#A5A5A5" stroke-width="2.25"/>
<circle cx="186.10" cy="382.8" r="2.0" fill="#A5A5A5" stroke="#A5A5A5" stroke-width="0.8"/>
<text transform="translate(197.60 385.55) scale(1 1.11)" font-size="7.7">TEDAC</text>
<line x1="231.2" y1="382.8" x2="249.8" y2="382.8" stroke="#0A6FC2" stroke-width="2.25"/>
<circle cx="240.50" cy="382.8" r="2.0" fill="#0A6FC2" stroke="#0A6FC2" stroke-width="0.8"/>
<text transform="translate(253.00 385.55) scale(1 1.11)" font-size="7.7">MOD16A2</text>
<line x1="297.2" y1="382.8" x2="315.1" y2="382.8" stroke="#10AF4F" stroke-width="2.25"/>
<circle cx="306.15" cy="382.8" r="2.0" fill="#10AF4F" stroke="#0A6FC2" stroke-width="0.8"/>
<text transform="translate(317.70 385.55) scale(1 1.11)" font-size="7.7">PP</text>
</svg>
</body></html>
